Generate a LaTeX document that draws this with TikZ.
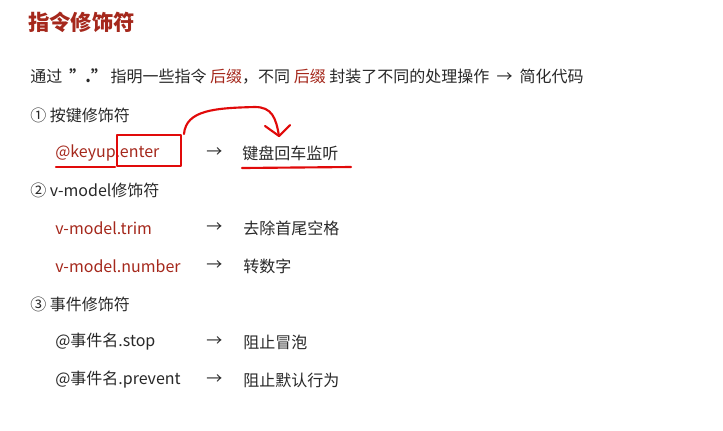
\documentclass[tikz,border=0pt]{standalone}
\usepackage{fontspec}
\setmainfont{Noto Sans CJK SC}
\definecolor{dred}{RGB}{165,40,28}
\definecolor{pen}{RGB}{225,10,10}
\definecolor{txt}{RGB}{40,40,40}
\begin{document}
\begin{tikzpicture}[x=0.75pt,y=-0.75pt,
  t/.style={anchor=west,inner sep=0pt,text=txt,font=\fontsize{12}{14}\selectfont},
  r/.style={t,text=dred},
  ar/.style={t},
  ink/.style={draw=pen,line width=1.6pt,line cap=round,line join=round}]
\useasboundingbox (0,0) rectangle (723,430);
\fill[white] (0,0) rectangle (723,430);
\node[anchor=west,inner sep=0pt,text=dred,font=\fontsize{16}{18}\bfseries\selectfont] (title) at (28,22) {指令修饰符};
\node[t] (l1) at (30,76) {通过 \ \textbf{"."} 指明一些指令 \textcolor{dred}{后缀}，不同 \textcolor{dred}{后缀} 封装了不同的处理操作 \ → \ 简化代码};
\node[t] (h1) at (30,115) {① 按键修饰符};
\node[r] (k1) at (55,153) {@keyup.enter};
\node[ar] (a1) at (206,153) {→};
\node[t] (v1) at (242,153) {键盘回车监听};
\node[t] (h2) at (30,190) {② v-model修饰符};
\node[r] (k2) at (55,228) {v-model.trim};
\node[ar] (a2) at (206,228) {→};
\node[t] (v2) at (243,228) {去除首尾空格};
\node[r] (k3) at (55,266) {v-model.number};
\node[ar] (a3) at (206,266) {→};
\node[t] (v3) at (243,266) {转数字};
\node[t] (h3) at (30,304) {③ 事件修饰符};
\node[t] (k4) at (55,342) {@事件名.stop};
\node[ar] (a4) at (206,342) {→};
\node[t] (v4) at (243,342) {阻止冒泡};
\node[t] (k5) at (55,380) {@事件名.prevent};
\node[ar] (a5) at (206,380) {→};
\node[t] (v5) at (243,380) {阻止默认行为};
% annotations
\coordinate (bx1) at (117,135);
\coordinate (bx2) at (181,166);
\draw[ink] (bx1) rectangle (bx2);
\coordinate (u1a) at (56,167); \coordinate (u1b) at (115,167);
\draw[ink] (u1a) -- (u1b);
\coordinate (u2a) at (242,168); \coordinate (u2b) at (351,167);
\draw[ink] (u2a) -- (u2b);
\coordinate (c0) at (184,134); \coordinate (c1) at (279,136);
\draw[ink] (c0) .. controls (186,110) and (215,108) .. (255,107) .. controls (272,107) and (276,118) .. (c1);
\coordinate (h1a) at (265,126); \coordinate (h1b) at (290,125);
\draw[ink] (h1a) -- (c1) -- (h1b);
\end{tikzpicture}
\end{document}
